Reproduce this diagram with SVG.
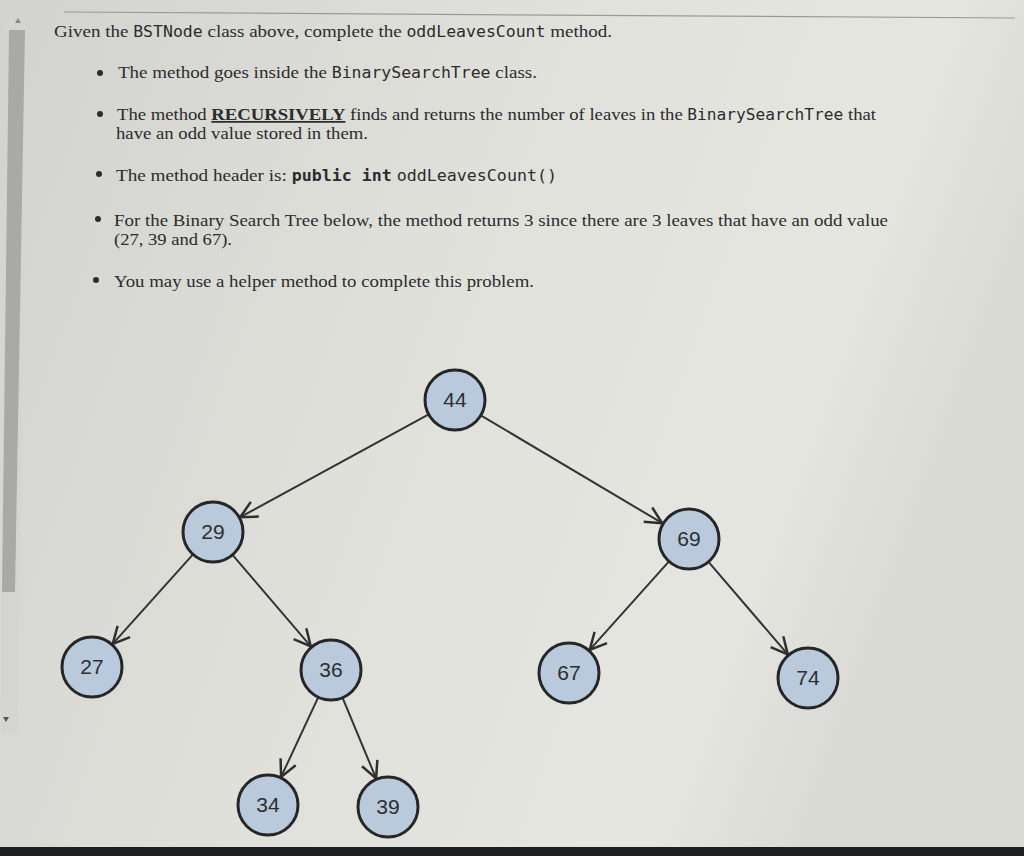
<svg xmlns="http://www.w3.org/2000/svg" width="1024" height="856" viewBox="0 0 1024 856">
<defs>
  <linearGradient id="bg" x1="0" y1="0" x2="1" y2="0.3">
    <stop offset="0" stop-color="#d2d2ce"/>
    <stop offset="0.5" stop-color="#e1e1dc"/>
    <stop offset="0.85" stop-color="#e6e6e1"/>
    <stop offset="1" stop-color="#dadad5"/>
  </linearGradient>
  <marker id="arr" markerUnits="userSpaceOnUse" markerWidth="20" markerHeight="20" viewBox="0 0 12 12" refX="11" refY="6" orient="auto">
    <path d="M1,1 L11,6 L1,11" fill="none" stroke="#2f2f2f" stroke-width="1.5"/>
  </marker>
  <style>
    .t { font-family: "Liberation Serif", "Times New Roman", serif; font-size: 17.5px; fill: #2c2c2c; }
    .m { font-family: "DejaVu Sans Mono", "Liberation Mono", monospace; font-size: 15.2px; }
    .b { font-weight: bold; }
    .bul { fill: #2c2c2c; }
    .node circle { fill: #b9cadd; stroke: #262626; stroke-width: 3; }
    .node text { font-family: "Liberation Sans", Arial, sans-serif; font-size: 21px; fill: #2e2e2e; text-anchor: middle; }
    .edges line { stroke: #333333; stroke-width: 2; marker-end: url(#arr); }
  </style>
</defs>
<rect width="1024" height="856" fill="url(#bg)"/>
<!-- scrollbar -->
<polygon points="5,18 28,18 17,735 1,735" fill="#d4d4d0"/>
<polygon points="9,30 25,30 15,592 2,592" fill="#a9a9a7"/>
<polygon points="15,23 18,18 21,23" fill="#888"/>
<polygon points="3,717 9,717 6,722" fill="#555"/>
<!-- top rule -->
<line x1="64" y1="12" x2="1015" y2="18" stroke="#9a9a98" stroke-width="1.2"/>
<!-- bottom band -->
<rect x="0" y="847" width="1024" height="9" fill="#1c1e22"/>

<g id="text">
  <text class="t" x="54" y="37" textLength="558" lengthAdjust="spacingAndGlyphs">Given the <tspan class="m">BSTNode</tspan> class above, complete the <tspan class="m">oddLeavesCount</tspan> method.</text>
  <circle class="bul" cx="100" cy="73" r="3"/>
  <text class="t" x="118" y="78" textLength="419" lengthAdjust="spacingAndGlyphs">The method goes inside the <tspan class="m">BinarySearchTree</tspan> class.</text>
  <circle class="bul" cx="100" cy="114" r="3"/>
  <text class="t" x="117" y="120" textLength="759" lengthAdjust="spacingAndGlyphs">The method <tspan class="b" text-decoration="underline">RECURSIVELY</tspan> finds and returns the number of leaves in the <tspan class="m">BinarySearchTree</tspan> that</text>
  <text class="t" x="116" y="139" textLength="252" lengthAdjust="spacingAndGlyphs">have an odd value stored in them.</text>
  <circle class="bul" cx="99" cy="174" r="3"/>
  <text class="t" x="116" y="181" textLength="441" lengthAdjust="spacingAndGlyphs">The method header is: <tspan class="m b">public int</tspan> <tspan class="m">oddLeavesCount()</tspan></text>
  <circle class="bul" cx="98" cy="219" r="3"/>
  <text class="t" x="114" y="226" textLength="774" lengthAdjust="spacingAndGlyphs">For the Binary Search Tree below, the method returns 3 since there are 3 leaves that have an odd value</text>
  <text class="t" x="114" y="245" textLength="118" lengthAdjust="spacingAndGlyphs">(27, 39 and 67).</text>
  <circle class="bul" cx="96" cy="280" r="3"/>
  <text class="t" x="114" y="287" textLength="420" lengthAdjust="spacingAndGlyphs">You may use a helper method to complete this problem.</text>
</g>

<g id="connectors" class="edges">
  <line x1="428.7" y1="414.4" x2="240.2" y2="517.2"/>
  <line x1="480.8" y1="415.3" x2="662.3" y2="523.2"/>
  <line x1="193" y1="554.3" x2="112.7" y2="643.9"/>
  <line x1="232.5" y1="554.8" x2="310.8" y2="646.4"/>
  <line x1="669" y1="561.3" x2="589.7" y2="649.9"/>
  <line x1="708.5" y1="561.8" x2="787.8" y2="654.4"/>
  <line x1="318.3" y1="697.2" x2="281.1" y2="776.9"/>
  <line x1="342.5" y1="697.7" x2="376.1" y2="778.4"/>
</g>

<g id="n44" class="node"><circle cx="455" cy="400" r="30"/><text x="455" y="407">44</text></g>
<g id="n29" class="node"><circle cx="213" cy="532" r="30"/><text x="213" y="539">29</text></g>
<g id="n69" class="node"><circle cx="689" cy="539" r="30"/><text x="689" y="546">69</text></g>
<g id="n27" class="node"><circle cx="92" cy="667" r="30"/><text x="92" y="674">27</text></g>
<g id="n36" class="node"><circle cx="331" cy="670" r="30"/><text x="331" y="677">36</text></g>
<g id="n67" class="node"><circle cx="569" cy="673" r="30"/><text x="569" y="680">67</text></g>
<g id="n74" class="node"><circle cx="808" cy="678" r="30"/><text x="808" y="685">74</text></g>
<g id="n34" class="node"><circle cx="268" cy="805" r="30"/><text x="268" y="812">34</text></g>
<g id="n39" class="node"><circle cx="388" cy="807" r="30"/><text x="388" y="814">39</text></g>
</svg>
